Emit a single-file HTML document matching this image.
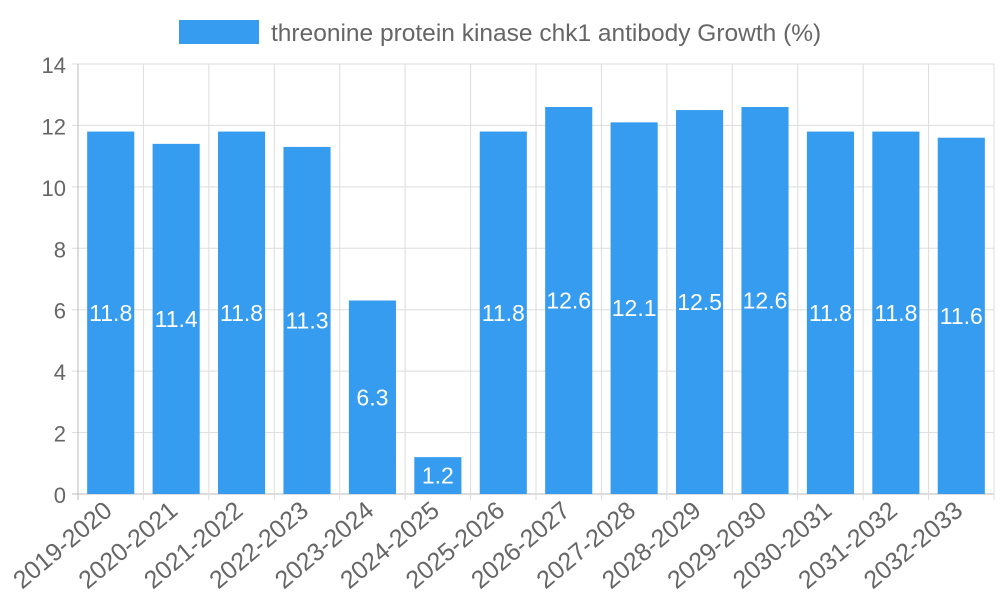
<!DOCTYPE html>
<html><head><meta charset="utf-8"><style>
body{margin:0;background:#fff;width:1000px;height:600px;overflow:hidden}
svg text{font-family:"Liberation Sans",sans-serif}
</style></head><body>
<svg id="c" width="1000" height="600"></svg>
<script>
const categories=["2019-2020","2020-2021","2021-2022","2022-2023","2023-2024","2024-2025","2025-2026","2026-2027","2027-2028","2028-2029","2029-2030","2030-2031","2031-2032","2032-2033"];
const values=[11.8,11.4,11.8,11.3,6.3,1.2,11.8,12.6,12.1,12.5,12.6,11.8,11.8,11.6];
const yTicks=[0,2,4,6,8,10,12,14];
const L=78,R=994,T=64,B=494,yMax=14;
const svg=document.getElementById('c');const NS='http://www.w3.org/2000/svg';
const bw=(R-L)/categories.length;
const y=v=>B-(v/yMax)*(B-T);
const x=i=>L+i*bw;
function mk(t,a,txt){const e=document.createElementNS(NS,t);for(const k in a)e.setAttribute(k,a[k]);if(txt!==undefined)e.textContent=txt;svg.appendChild(e);return e;}
yTicks.forEach(t=>{
 const g=mk('line',{x1:L-6,x2:R,y1:y(t),y2:y(t),stroke:t===0?'#bbb':'#ddd','stroke-width':1});
 
 
 const lb=mk('text',{x:L-12,y:y(t)+9,'text-anchor':'end','font-size':22,fill:'#666'},t);
 
 
});
for(let i=0;i<=categories.length;i++){
 const g=mk('line',{x1:x(i),x2:x(i),y1:T,y2:B+6,stroke:i===0?'#bbb':'#ddd','stroke-width':1});
 
 
}
categories.forEach((c,i)=>{
 const v=values[i];const w=bw*0.72;const bx=x(i)+(bw-w)/2;
 const r=mk('rect',{x:bx,y:y(v),width:w,height:B-y(v),fill:'#369cf0'});
 
 
 const vl=mk('text',{x:x(i)+bw/2,y:(y(v)+B)/2+8,'text-anchor':'middle','font-size':23,fill:'#fff'},v);
 
 
 const cx=x(i)+bw/2+3,cy=B+19;
 const xl=mk('text',{x:cx,y:cy,'text-anchor':'end','font-size':25,fill:'#666',transform:`rotate(-40 ${cx} ${cy})`},c);
 
 
});
const lg=mk('rect',{x:179,y:20,width:80,height:24,fill:'#369cf0'});


const lt=mk('text',{x:271,y:41,'font-size':24.5,fill:'#666'},'threonine protein kinase chk1 antibody Growth (%)');


</script>
</body></html>
